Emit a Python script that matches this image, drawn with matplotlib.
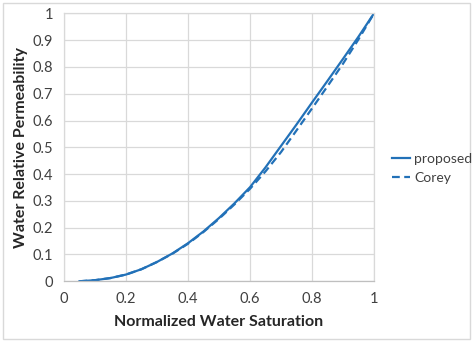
import matplotlib

matplotlib.use('Agg')
import matplotlib.pyplot as plt
from matplotlib.patches import Rectangle

# normalized water saturation and the two relative permeability curves
sw = [0.05, 0.10, 0.15, 0.20, 0.25, 0.30, 0.35, 0.40, 0.45, 0.50,
      0.55, 0.60, 0.65, 0.70, 0.75, 0.80, 0.85, 0.90, 0.95, 1.00]
krw_proposed = [0.0, 0.004, 0.012, 0.025, 0.045, 0.072, 0.104, 0.142, 0.186, 0.236,
                0.291, 0.351, 0.425, 0.505, 0.585, 0.667, 0.748, 0.830, 0.913, 1.0]
krw_corey = [0.0, 0.004, 0.012, 0.025, 0.045, 0.072, 0.103, 0.140, 0.184, 0.233,
             0.287, 0.345, 0.410, 0.482, 0.563, 0.645, 0.728, 0.812, 0.903, 1.0]

x_ticks = [0, 0.2, 0.4, 0.6, 0.8, 1]
y_ticks = [0, 0.1, 0.2, 0.3, 0.4, 0.5, 0.6, 0.7, 0.8, 0.9, 1]

plt.rcParams['font.family'] = ['Lato', 'DejaVu Sans']
blue = '#2271b8'
grid = '#d9d9d9'

fig = plt.figure(figsize=(4.74, 3.43), dpi=100)
ax = fig.add_axes([0.135, 0.180, 0.654, 0.781])

ax.plot(sw, krw_proposed, color=blue, lw=1.6, label='proposed')
ax.plot(sw, krw_corey, color=blue, lw=1.6, ls=(0, (3.5, 2)), label='Corey')

ax.set_xlim(0, 1)
ax.set_ylim(0, 1)
ax.set_xticks(x_ticks)
ax.set_yticks(y_ticks)
ax.set_xticklabels([f'{t:g}' for t in x_ticks])
ax.set_yticklabels([f'{t:g}' for t in y_ticks])
ax.tick_params(length=0, labelsize=10.5, colors='#404040', pad=8)
ax.grid(color=grid, lw=0.9)
ax.set_axisbelow(True)
for s in ax.spines.values():
    s.set_color(grid)
    s.set_linewidth(0.9)
ax.spines['bottom'].set_color('#bfbfbf')

ax.set_xlabel('Normalized Water Saturation', fontsize=11.5, fontweight='bold',
              color='#262626', labelpad=6)
ax.set_ylabel('Water Relative Permeability', fontsize=11.5, fontweight='bold',
              color='#262626', labelpad=3)

fig.legend(loc='upper left', bbox_to_anchor=(0.8, 0.59), frameon=False,
           fontsize=10, handlelength=1.3, handletextpad=0.3, labelspacing=0.5,
           labelcolor='#404040')

# thin chart-area border
fig.patches.append(Rectangle((0.006, 0.012), 0.986, 0.978, transform=fig.transFigure,
                             fill=False, edgecolor='#d9d9d9', lw=1))

fig.savefig('out.png', dpi=100)
